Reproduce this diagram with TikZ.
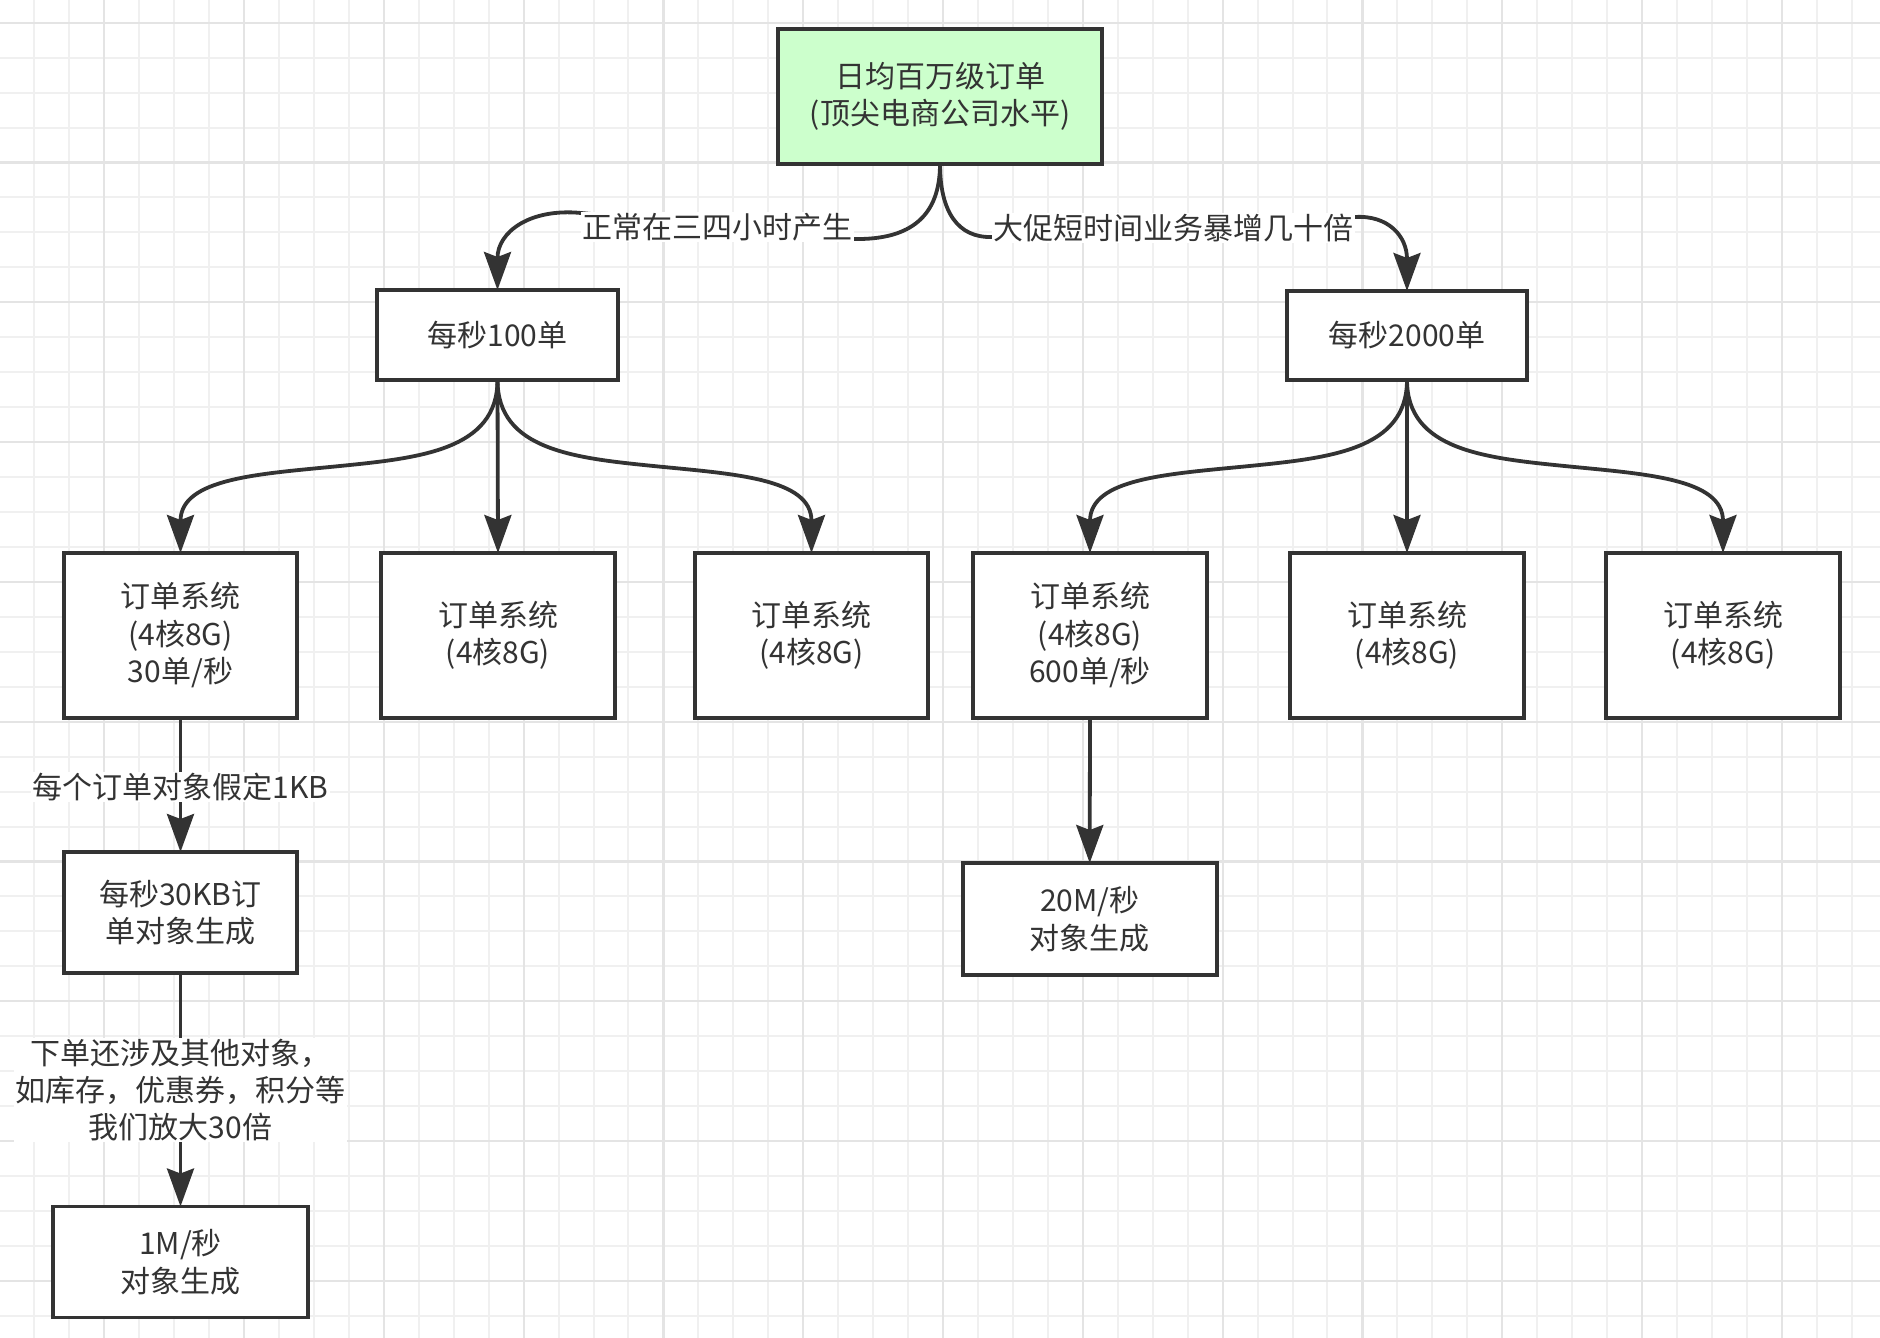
\documentclass[tikz,border=0pt]{standalone}
\usepackage{fontspec}
\setmainfont{Noto Sans CJK SC}
\usetikzlibrary{arrows.meta}
\definecolor{ln}{HTML}{333333}
\definecolor{txt}{HTML}{333333}
\definecolor{gmin}{HTML}{F0F0F0}
\definecolor{gmaj}{HTML}{E4E4E4}
\definecolor{topfill}{HTML}{CCFFCC}
\begin{document}
\begin{tikzpicture}[x=1pt,y=-1pt,
  box/.style={draw=ln, line width=3.8pt, fill=white, inner sep=0pt, outer sep=0pt,
    align=center, text=txt, font=\fontsize{30pt}{37.5pt}\selectfont},
  lbl/.style={fill=white, inner sep=1.5pt, align=center, text=txt,
    font=\fontsize{30pt}{36.8pt}\selectfont},
  arr/.style={draw=ln, line width=3.8pt, line join=round,
    -{Stealth[length=38pt,width=27pt,inset=5pt]}},
  gridminor/.style={draw=gmin, line width=2pt},
  gridmajor/.style={draw=gmaj, line width=2.2pt},
]
\useasboundingbox (0,0) rectangle (1880,1338);
\fill[white] (0,0) rectangle (1880,1338);
% grid
\foreach \n in {1,...,53}{\draw[gridminor] ({-0.65+\n*34.95},0) -- ({-0.65+\n*34.95},1338);}
\foreach \m in {0,...,37}{\draw[gridminor] (0,{22.7+\m*34.95}) -- (1880,{22.7+\m*34.95});}
\foreach \n in {3,7,...,51}{\draw[gridmajor] ({-0.65+\n*34.95},0) -- ({-0.65+\n*34.95},1338);}
\foreach \m in {0,4,...,36}{\draw[gridmajor] (0,{22.7+\m*34.95}) -- (1880,{22.7+\m*34.95});}

% nodes
\node[box, fill=topfill, minimum width=324pt, minimum height=135pt] (top) at (940,96.5)
  {日均百万级订单\\(顶尖电商公司水平)};
\node[box, minimum width=241pt, minimum height=90pt] (b100) at (497.5,335) {每秒100单};
\node[box, minimum width=240pt, minimum height=89pt] (b2000) at (1407,335.5) {每秒2000单};

\node[box, minimum width=233pt, minimum height=165pt] (s1) at (180.5,635.5) {订单系统\\(4核8G)\\30单/秒};
\node[box, minimum width=234pt, minimum height=165pt] (s2) at (498,635.5) {订单系统\\(4核8G)};
\node[box, minimum width=233pt, minimum height=165pt] (s3) at (811.5,635.5) {订单系统\\(4核8G)};
\node[box, minimum width=234pt, minimum height=165pt] (s4) at (1090,635.5) {订单系统\\(4核8G)\\600单/秒};
\node[box, minimum width=234pt, minimum height=165pt] (s5) at (1407,635.5) {订单系统\\(4核8G)};
\node[box, minimum width=234pt, minimum height=165pt] (s6) at (1723,635.5) {订单系统\\(4核8G)};

\node[box, minimum width=233pt, minimum height=121pt] (kb30) at (180.5,912.5) {每秒30KB订\\单对象生成};
\node[box, minimum width=255pt, minimum height=111pt] (m1) at (180.5,1262) {1M/秒\\对象生成};
\node[box, minimum width=254pt, minimum height=112pt] (m20) at (1089.7,919) {20M/秒\\对象生成};

% top level curves
\draw[arr] (top.south) .. controls (940,215) and (912,240) .. (854,239)
  -- (581,213) .. controls (530,208) and (497.5,232) .. (b100.north);
\draw[arr] (top.south) .. controls (940,212) and (958,238) .. (992,237)
  -- (1355,217) .. controls (1388,215) and (1407,236) .. (b2000.north);

% second level (100)
\draw[arr] (b100.south) .. controls (497.5,450) and (419.5,458) .. (340,466)
  .. controls (259.5,474) and (180.5,478) .. (s1.north);
\draw[arr] (b100.south) -- (s2.north);
\draw[arr] (b100.south) .. controls (497.5,450) and (574.5,458) .. (653.5,466)
  .. controls (733.5,474) and (811.5,478) .. (s3.north);

% second level (2000)
\draw[arr] (b2000.south) .. controls (1407,450) and (1329,458) .. (1249.5,466)
  .. controls (1169,474) and (1090,478) .. (s4.north);
\draw[arr] (b2000.south) -- (s5.north);
\draw[arr] (b2000.south) .. controls (1407,450) and (1485,458) .. (1564.5,466)
  .. controls (1644,474) and (1723,478) .. (s6.north);

% lower chains
\draw[arr] (s1.south) -- (kb30.north);
\draw[arr] (kb30.south) -- (m1.north);
\draw[arr] (s4.south) -- (m20.north);

% labels
\node[lbl] (l1) at (717.5,227) {正常在三四小时产生};
\node[lbl] (l2) at (1173.5,228) {大促短时间业务暴增几十倍};
\node[lbl] (l3) at (180.5,787) {每个订单对象假定1KB};
\node[lbl] (l4) at (180.5,1090) {下单还涉及其他对象，\\如库存，优惠券，积分等\\我们放大30倍};
\end{tikzpicture}
\end{document}
